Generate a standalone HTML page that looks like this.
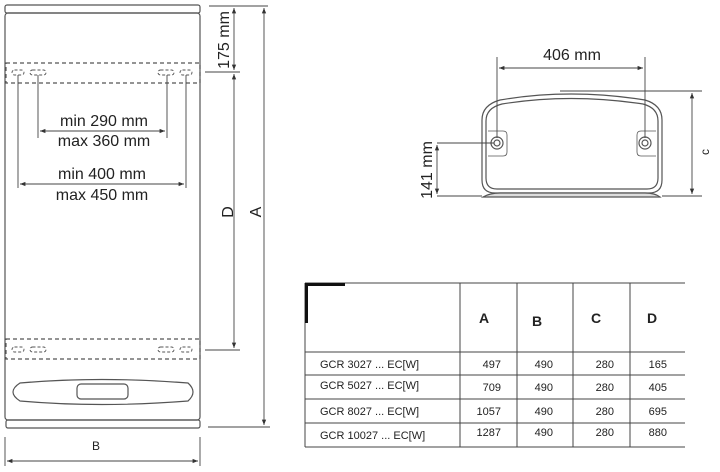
<!DOCTYPE html>
<html><head><meta charset="utf-8"><style>
html,body{margin:0;padding:0;background:#fff;width:720px;height:472px;overflow:hidden}
svg{display:block}
text{font-family:"Liberation Sans",Arial,sans-serif;fill:#222}
</style></head><body>
<svg width="720" height="472" viewBox="0 0 720 472" xmlns="http://www.w3.org/2000/svg">
<defs>
<marker id="ar" viewBox="0 0 10 10" refX="10" refY="5" markerWidth="6" markerHeight="6" orient="auto-start-reverse"><path d="M0,1 L10,5 L0,9 z" fill="#333"/></marker>
</defs>
<g fill="none" stroke="#555" stroke-width="1.2">
<rect x="5" y="5" width="195" height="8" rx="2"/>
<rect x="5" y="13" width="195" height="407" rx="3"/>
<rect x="6" y="420" width="194" height="8" rx="2"/>
<g stroke-dasharray="4,3">
<rect x="6" y="63" width="194" height="20"/>
<rect x="6" y="339" width="194" height="20"/>
</g>
<g stroke-width="0.9" stroke-dasharray="3,2">
<rect x="12" y="70" width="12" height="5" rx="2.5"/><rect x="30" y="70" width="16" height="5" rx="2.5"/>
<rect x="158" y="70" width="16" height="5" rx="2.5"/><rect x="180" y="70" width="12" height="5" rx="2.5"/>
<rect x="12" y="347" width="12" height="5" rx="2.5"/><rect x="30" y="347" width="16" height="5" rx="2.5"/>
<rect x="158" y="347" width="16" height="5" rx="2.5"/><rect x="180" y="347" width="12" height="5" rx="2.5"/>
</g>
<path d="M20,383 Q100,376 188,383 Q198,392 188,401 Q100,408 20,401 Q6,392 20,383 z"/>
<rect x="77" y="384" width="51" height="15" rx="4"/>
</g>
<g stroke="#444" stroke-width="0.9" fill="none">
<line x1="38" y1="75" x2="38" y2="138"/><line x1="167" y1="75" x2="167" y2="138"/>
<line x1="40" y1="131" x2="165" y2="131" marker-start="url(#ar)" marker-end="url(#ar)"/>
<line x1="18" y1="75" x2="18" y2="188"/><line x1="186" y1="75" x2="186" y2="188"/>
<line x1="20" y1="184" x2="184" y2="184" marker-start="url(#ar)" marker-end="url(#ar)"/>
<line x1="209" y1="6" x2="268" y2="6"/>
<line x1="205" y1="72" x2="240" y2="72"/>
<line x1="205" y1="350" x2="240" y2="350"/>
<line x1="208" y1="427" x2="270" y2="427"/>
<line x1="234" y1="8" x2="234" y2="70" marker-start="url(#ar)" marker-end="url(#ar)"/>
<line x1="234" y1="74" x2="234" y2="348" marker-start="url(#ar)" marker-end="url(#ar)"/>
<line x1="264" y1="8" x2="264" y2="425" marker-start="url(#ar)" marker-end="url(#ar)"/>
<line x1="5" y1="437" x2="5" y2="466"/><line x1="200" y1="437" x2="200" y2="466"/>
<line x1="7" y1="461" x2="198" y2="461" marker-start="url(#ar)" marker-end="url(#ar)"/>
</g>
<g font-size="16" text-anchor="middle">
<text x="104" y="126">min 290 mm</text>
<text x="104" y="146">max 360 mm</text>
<text x="102" y="179">min 400 mm</text>
<text x="102" y="200">max 450 mm</text>
<text transform="translate(229,40) rotate(-90)">175 mm</text>
<text transform="translate(233,212) rotate(-90)">D</text>
<text transform="translate(261,212) rotate(-90)">A</text>
<text x="96" y="450" font-size="12">B</text>
<text x="572" y="60">406 mm</text>
<text transform="translate(432,170) rotate(-90)">141 mm</text>
<text transform="translate(709,152) rotate(-90)" font-size="12">c</text>
</g>
<g fill="none" stroke="#555" stroke-width="1.2">
<path d="M482,120 Q482,105 500,100 Q570,88 645,100 Q662,105 662,120 L662,180 Q662,193 649,193 L495,193 Q482,193 482,180 z"/>
<path d="M486,121 Q486,108 502,104 Q570,93 643,104 Q658,108 658,121 L658,178 Q658,189 647,189 L497,189 Q486,189 486,178 z"/>
<path d="M483,197 Q490,193 500,193 L645,193 Q655,193 660,197 z" fill="#ddd"/>
<path d="M488,131 L503,131 Q507,131 507,135 L507,152 Q507,156 503,156 L488,156" stroke-width="0.8"/>
<path d="M656,131 L641,131 Q637,131 637,135 L637,152 Q637,156 641,156 L656,156" stroke-width="0.8"/>
<circle cx="497" cy="143" r="6"/><circle cx="497" cy="143" r="3"/>
<circle cx="645" cy="143" r="6"/><circle cx="645" cy="143" r="3"/>
</g>
<g stroke="#444" stroke-width="0.9" fill="none">
<line x1="497" y1="57" x2="497" y2="138"/><line x1="645" y1="57" x2="645" y2="138"/>
<line x1="499" y1="68" x2="643" y2="68" marker-start="url(#ar)" marker-end="url(#ar)"/>
<line x1="560" y1="91" x2="702" y2="91"/>
<line x1="662" y1="196" x2="702" y2="196"/>
<line x1="692" y1="93" x2="692" y2="194" marker-start="url(#ar)" marker-end="url(#ar)"/>
<line x1="437" y1="143" x2="494" y2="143"/>
<line x1="437" y1="196" x2="482" y2="196"/>
<line x1="437" y1="145" x2="437" y2="194" marker-start="url(#ar)" marker-end="url(#ar)"/>
</g>
<g stroke="#444" stroke-width="1" fill="none">
<line x1="305" y1="283" x2="685" y2="283"/>
<line x1="305" y1="352" x2="685" y2="352"/>
<line x1="305" y1="375" x2="685" y2="375"/>
<line x1="305" y1="399" x2="685" y2="399"/>
<line x1="305" y1="423" x2="685" y2="423"/>
<line x1="305" y1="447" x2="685" y2="447"/>
<line x1="305" y1="283" x2="305" y2="447"/>
<line x1="460" y1="283" x2="460" y2="447"/>
<line x1="517" y1="283" x2="517" y2="447"/>
<line x1="573" y1="283" x2="573" y2="447"/>
<line x1="630" y1="283" x2="630" y2="447"/>
</g>
<path d="M305,283 L345,283 L345,286 L308,286 L308,323 L305,323 z" fill="#111"/>
<g font-size="14" font-weight="bold" text-anchor="middle">
<text x="484" y="323">A</text><text x="537" y="326">B</text><text x="596" y="323">C</text><text x="652" y="323">D</text>
</g>
<g font-size="11">
<text x="320" y="368">GCR 3027 ... EC[W]</text>
<text x="320" y="389">GCR 5027 ... EC[W]</text>
<text x="320" y="415">GCR 8027 ... EC[W]</text>
<text x="320" y="439">GCR 10027 ... EC[W]</text>
</g>
<g font-size="11" text-anchor="end">
<text x="501" y="368">497</text><text x="553" y="368">490</text><text x="614" y="368">280</text><text x="667" y="368">165</text>
<text x="501" y="391">709</text><text x="553" y="391">490</text><text x="614" y="391">280</text><text x="667" y="391">405</text>
<text x="501" y="415">1057</text><text x="553" y="415">490</text><text x="614" y="415">280</text><text x="667" y="415">695</text>
<text x="501" y="436">1287</text><text x="553" y="436">490</text><text x="614" y="436">280</text><text x="667" y="436">880</text>
</g>
</svg>
</body></html>
